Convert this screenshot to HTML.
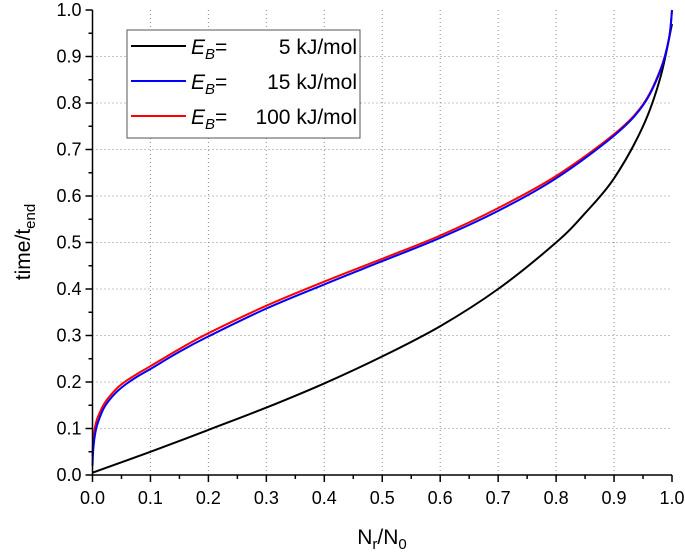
<!DOCTYPE html>
<html><head><meta charset="utf-8"><style>
body{margin:0;background:#fff;font-family:"Liberation Sans",sans-serif;}
svg text{font-family:"Liberation Sans",sans-serif;fill:#000;}
</style></head><body>
<svg id="chart" width="685" height="552" xmlns="http://www.w3.org/2000/svg">
<g id="grid"></g>
<g id="series"></g>
<g id="axes"></g>
<text transform="translate(30,242) rotate(-90)" text-anchor="middle" font-size="21">time/t<tspan font-size="15" dy="5">end</tspan></text>
<text x="382" y="544" text-anchor="middle" font-size="21">N<tspan font-size="15" dy="5">r</tspan><tspan dy="-5">/N</tspan><tspan font-size="15" dy="5">0</tspan></text>
<g>
<rect x="127" y="30" width="233" height="108" fill="#fff" stroke="#555" stroke-width="1"/>
<g><line x1="131" y1="46" x2="186" y2="46" stroke="#000" stroke-width="2"/><text x="191" y="54" font-size="21"><tspan font-style="italic">E</tspan><tspan font-style="italic" font-size="15" dy="5">B</tspan><tspan dy="-5">=</tspan></text><text x="357" y="54" font-size="21" text-anchor="end">5 kJ/mol</text></g>
<g><line x1="131" y1="81" x2="186" y2="81" stroke="#0000ff" stroke-width="2"/><text x="191" y="89" font-size="21"><tspan font-style="italic">E</tspan><tspan font-style="italic" font-size="15" dy="5">B</tspan><tspan dy="-5">=</tspan></text><text x="357" y="89" font-size="21" text-anchor="end">15 kJ/mol</text></g>
<g><line x1="131" y1="116" x2="186" y2="116" stroke="#ff0000" stroke-width="2"/><text x="191" y="124" font-size="21"><tspan font-style="italic">E</tspan><tspan font-style="italic" font-size="15" dy="5">B</tspan><tspan dy="-5">=</tspan></text><text x="357" y="124" font-size="21" text-anchor="end">100 kJ/mol</text></g>
</g>
</svg>
<script>
const xTicks=[0,0.1,0.2,0.3,0.4,0.5,0.6,0.7,0.8,0.9,1.0];
const yTicks=[0,0.1,0.2,0.3,0.4,0.5,0.6,0.7,0.8,0.9,1.0];
const blackX=[0,0.1,0.2,0.3,0.4,0.5,0.6,0.7,0.8,0.85,0.9,0.95,0.98,1.0];
const blackY=[0.005,0.05,0.097,0.145,0.197,0.255,0.32,0.4,0.5,0.563,0.638,0.75,0.855,0.97];
const blueX=[0,0.001,0.003,0.006,0.01,0.02,0.035,0.05,0.075,0.1,0.15,0.2,0.3,0.4,0.5,0.6,0.7,0.8,0.9,0.95,0.98,0.995,1.0];
const blueY=[0.02,0.05,0.075,0.098,0.115,0.145,0.17,0.188,0.21,0.228,0.265,0.298,0.358,0.41,0.46,0.51,0.568,0.638,0.73,0.795,0.87,0.94,1.0];
const redX=[0,0.001,0.003,0.006,0.01,0.02,0.035,0.05,0.075,0.1,0.15,0.2,0.3,0.4,0.5,0.6,0.7,0.8,0.9,0.95,0.98,0.995,1.0];
const redY=[0.04,0.07,0.093,0.112,0.127,0.153,0.177,0.195,0.216,0.234,0.271,0.305,0.364,0.416,0.465,0.515,0.574,0.643,0.733,0.797,0.872,0.94,1.0];
const X0=92.5,X1=672,Y0=475,Y1=10;
const sx=v=>X0+(X1-X0)*v, sy=v=>Y0-(Y0-Y1)*v;
const NS="http://www.w3.org/2000/svg";
function mk(tag,attrs,parent){const e=document.createElementNS(NS,tag);for(const k in attrs)e.setAttribute(k,attrs[k]);parent.appendChild(e);return e;}
const grid=document.getElementById('grid'),axes=document.getElementById('axes'),series=document.getElementById('series');
xTicks.forEach((t,i)=>{if(i>0&&i<xTicks.length-1){const l=mk('line',{x1:sx(t),x2:sx(t),y1:Y1,y2:Y0,stroke:'#888','stroke-dasharray':'1,3'},grid);}
const tk=mk('line',{x1:sx(t),x2:sx(t),y1:Y0,y2:Y0+7,stroke:'#000','stroke-width':1.5},axes);
if(i<xTicks.length-1){const m=mk('line',{x1:sx(t+0.05),x2:sx(t+0.05),y1:Y0,y2:Y0+4,stroke:'#000','stroke-width':1.5},axes);}
const tx=mk('text',{x:sx(t),y:Y0+29,'text-anchor':'middle','font-size':18},axes);tx.textContent=t.toFixed(1);});
yTicks.forEach((t,i)=>{if(i>0&&i<yTicks.length-1){const l=mk('line',{x1:X0,x2:X1,y1:sy(t),y2:sy(t),stroke:'#888','stroke-dasharray':'1,3'},grid);}
const tk=mk('line',{x1:X0-7,x2:X0,y1:sy(t),y2:sy(t),stroke:'#000','stroke-width':1.5},axes);
if(i<yTicks.length-1){const m=mk('line',{x1:X0-4,x2:X0,y1:sy(t+0.05),y2:sy(t+0.05),stroke:'#000','stroke-width':1.5},axes);}
const tx=mk('text',{x:X0-11,y:sy(t)+6,'text-anchor':'end','font-size':18},axes);tx.textContent=t.toFixed(1);});
const ax=mk('path',{d:`M${X0},${Y1}V${Y0}H${X1}`,fill:'none',stroke:'#000','stroke-width':1.5},axes);
function line(xs,ys,c,name){
  const P=xs.map((x,i)=>[sx(x),sy(ys[i])]);
  let d='M'+P[0][0].toFixed(1)+','+P[0][1].toFixed(1);
  for(let i=0;i<P.length-1;i++){
    const p0=P[Math.max(0,i-1)],p1=P[i],p2=P[i+1],p3=P[Math.min(P.length-1,i+2)];
    const c1=[p1[0]+(p2[0]-p0[0])/6,p1[1]+(p2[1]-p0[1])/6];
    const c2=[p2[0]-(p3[0]-p1[0])/6,p2[1]-(p3[1]-p1[1])/6];
    d+='C'+c1[0].toFixed(1)+','+c1[1].toFixed(1)+' '+c2[0].toFixed(1)+','+c2[1].toFixed(1)+' '+p2[0].toFixed(1)+','+p2[1].toFixed(1);
  }
  const p=mk('path',{d:d,fill:'none',stroke:c,'stroke-width':2,'stroke-linejoin':'round'},series);
  }
line(blackX,blackY,'#000','series-5kj');
line(redX,redY,'#ff0000','series-100kj');
line(blueX,blueY,'#0000ff','series-15kj');
</script>
</body></html>
